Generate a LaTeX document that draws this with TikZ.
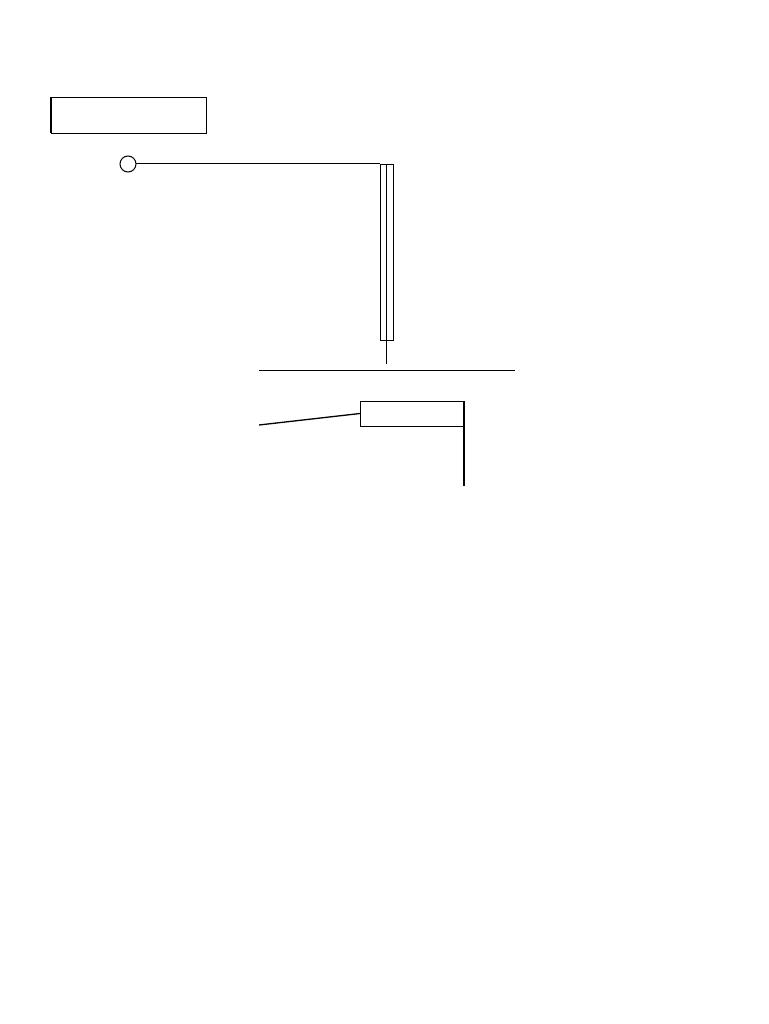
\documentclass[tikz,border=0pt]{standalone}
\usetikzlibrary{positioning}

\tikzset{
    box/.style={draw, line width=0.9pt, inner sep=0pt, outer sep=0pt},
    pin/.style={draw, circle, line width=1pt, minimum size=16pt, inner sep=0pt, outer sep=0pt},
    wire/.style={line width=1pt}
}

\begin{document}
\begin{tikzpicture}[x=1pt, y=-1pt]
    \useasboundingbox (0,0) rectangle (768,1024);
    % top label box
    \node[box, minimum width=155pt, minimum height=36pt] (title) at (128.5,115) {};
    \draw[line width=1.8pt] (title.north west) -- (title.south west);
    % terminal and rod
    \node[pin] (term) at (128,164) {};
    \node[box, minimum width=13pt, minimum height=176pt, anchor=north west] (rod) at (380,164) {};
    \coordinate (rodtip) at (386.5,364);
    \draw[wire] (term.east) -- (rod.north west);
    \draw[wire] (rod.north) -- (rod.south);
    \draw[wire] (rod.south) -- (rodtip);
    % base line
    \coordinate (baseL) at (259,370);
    \coordinate (baseR) at (515,370);
    \draw[wire] (baseL) -- (baseR);
    % lower block
    \node[box, minimum width=104pt, minimum height=25pt, anchor=north west] (block) at (360,401) {};
    \coordinate (lead) at (259,425);
    \coordinate (post) at (464,486);
    \draw[line width=1.3pt] (lead) -- (block.west);
    \draw[line width=1.8pt] (block.north east) -- (post);
\end{tikzpicture}
\end{document}
